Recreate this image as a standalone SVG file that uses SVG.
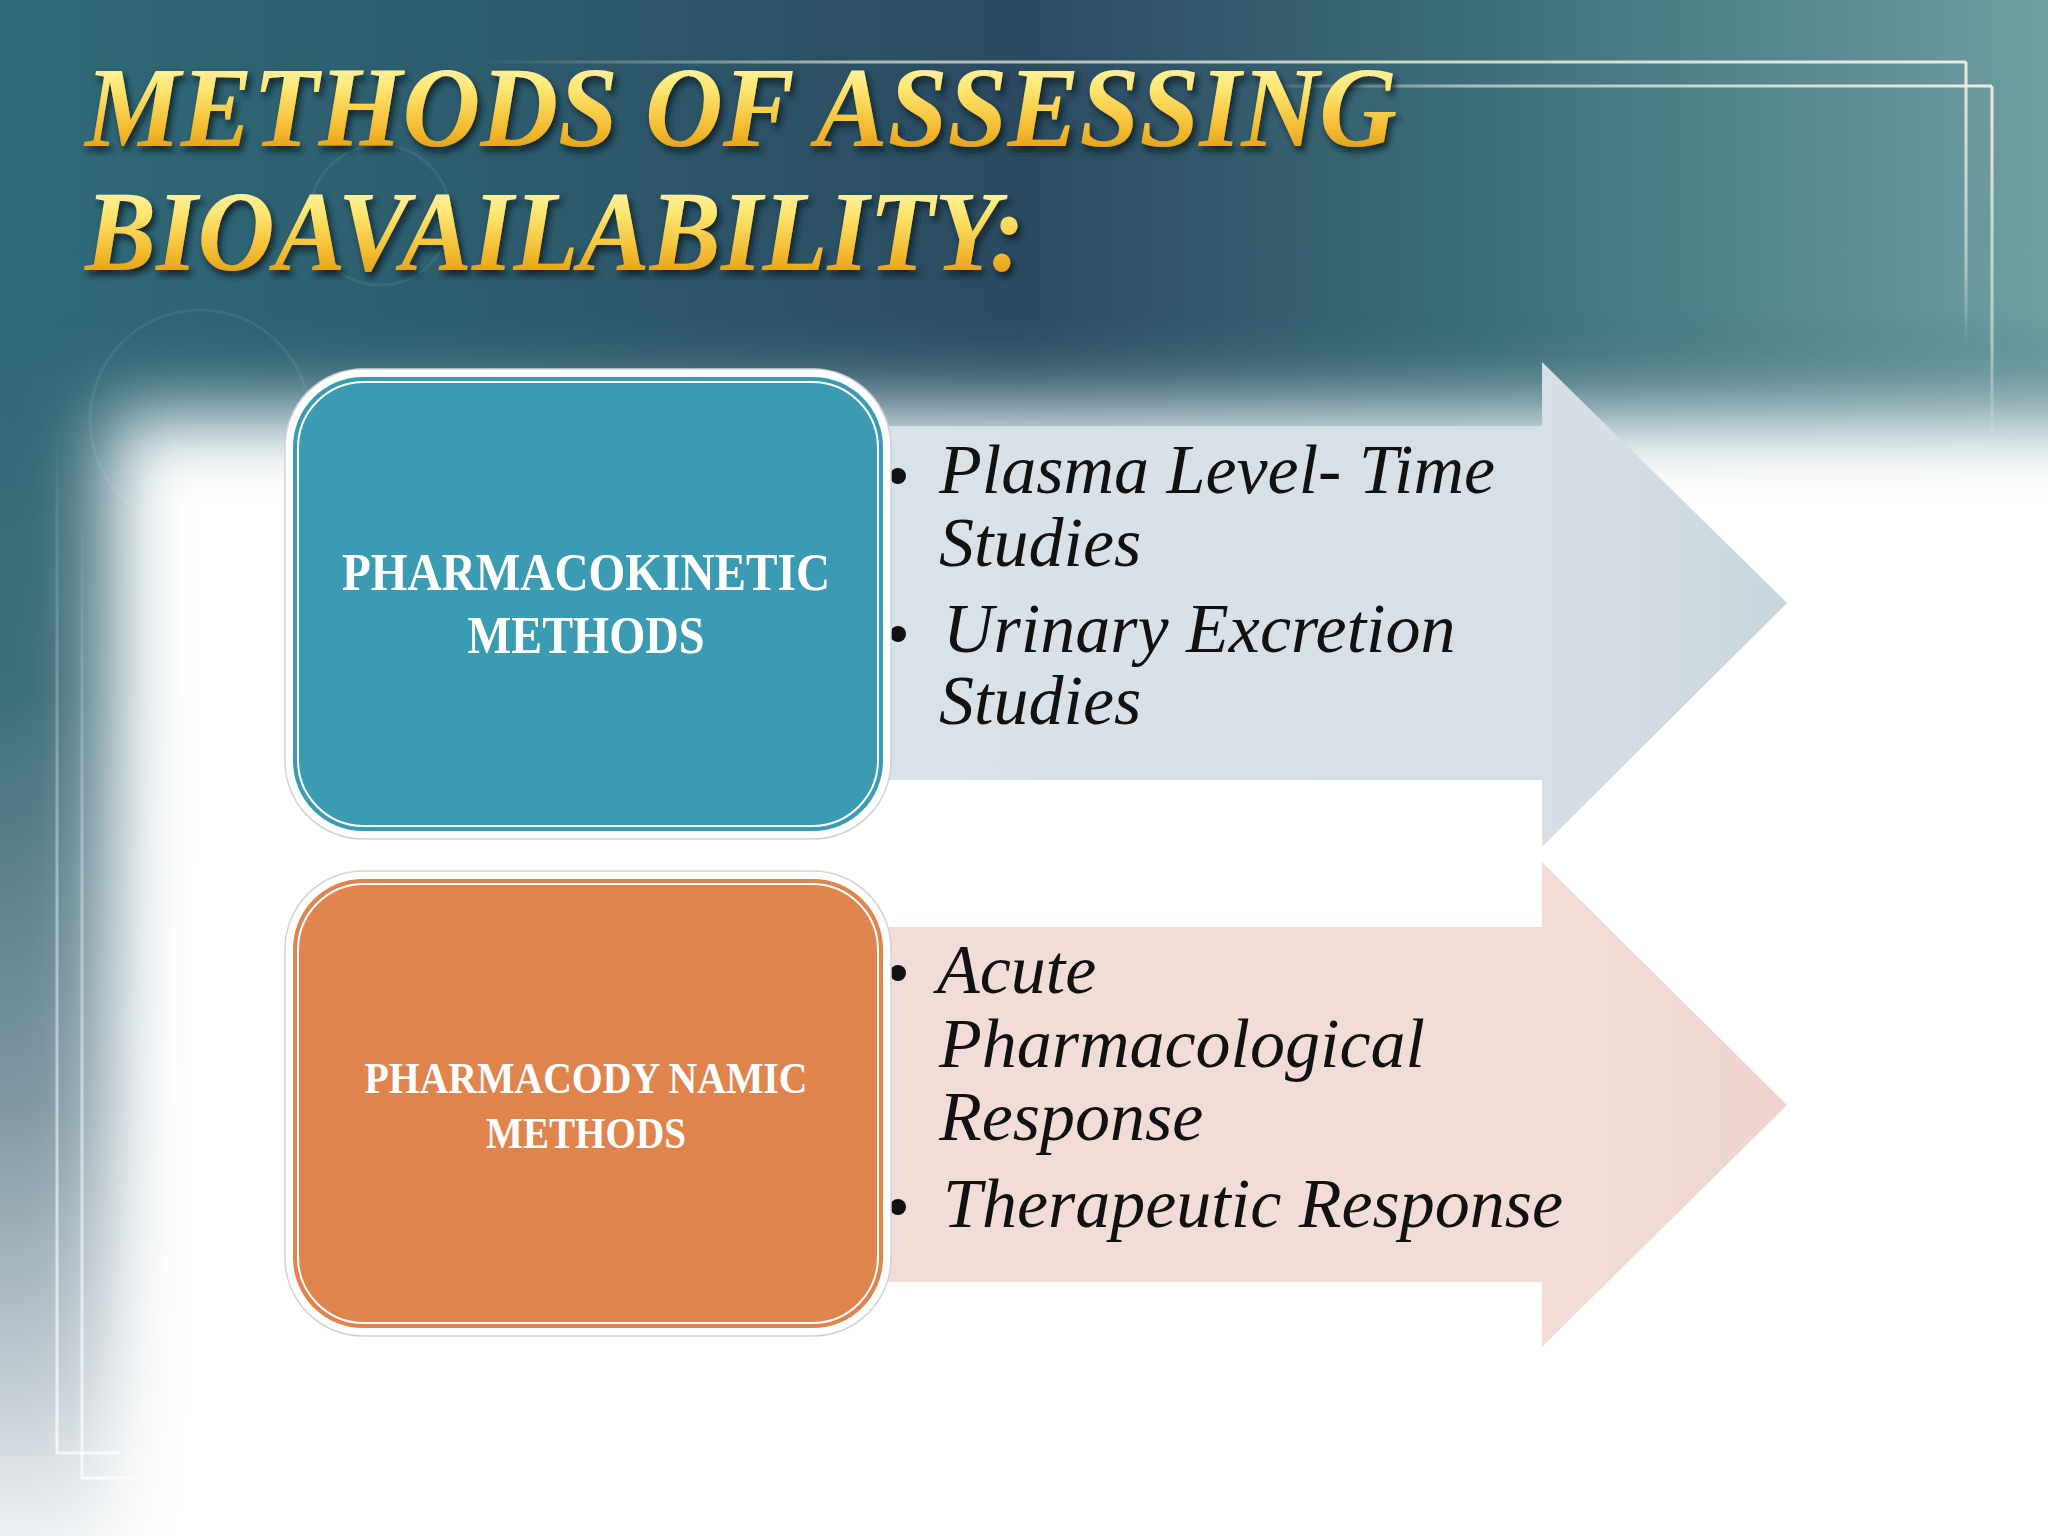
<svg xmlns="http://www.w3.org/2000/svg" width="2048" height="1536" viewBox="0 0 2048 1536">
<defs>
  <linearGradient id="bgV" x1="0" y1="0" x2="0" y2="1">
    <stop offset="0" stop-color="#2d6472"/>
    <stop offset="0.45" stop-color="#3f6f7c"/>
    <stop offset="0.72" stop-color="#7f98a4"/>
    <stop offset="0.9" stop-color="#c2ccd3"/>
    <stop offset="1" stop-color="#eef1f3"/>
  </linearGradient>
  <linearGradient id="bgTop" x1="0" y1="0" x2="1" y2="0">
    <stop offset="0" stop-color="#2f6a78"/>
    <stop offset="0.25" stop-color="#2d5b6c"/>
    <stop offset="0.5" stop-color="#2b4a60"/>
    <stop offset="0.72" stop-color="#3c6d7a"/>
    <stop offset="1" stop-color="#6f9ea2"/>
  </linearGradient>
  <linearGradient id="topMaskG" x1="0" y1="0" x2="0" y2="1">
    <stop offset="0" stop-color="#fff"/>
    <stop offset="0.6" stop-color="#fff"/>
    <stop offset="1" stop-color="#000"/>
  </linearGradient>
  <mask id="topMask" maskUnits="userSpaceOnUse" x="0" y="0" width="2048" height="520">
    <rect x="0" y="0" width="2048" height="520" fill="url(#topMaskG)"/>
  </mask>
  <filter id="blurW" x="-20%" y="-20%" width="140%" height="140%">
    <feGaussianBlur stdDeviation="38"/>
  </filter>
  <linearGradient id="gold" x1="0" y1="0" x2="0" y2="1">
    <stop offset="0" stop-color="#fffbd6"/>
    <stop offset="0.35" stop-color="#ffe771"/>
    <stop offset="0.7" stop-color="#f2b62a"/>
    <stop offset="1" stop-color="#c8860e"/>
  </linearGradient>
  <filter id="titleShadow" x="-5%" y="-20%" width="110%" height="150%">
    <feDropShadow dx="3" dy="5" stdDeviation="3" flood-color="#0a1a20" flood-opacity="0.9"/>
  </filter>
  <linearGradient id="lineH1" gradientUnits="userSpaceOnUse" x1="480" y1="0" x2="1966" y2="0">
    <stop offset="0" stop-color="#e4e2d2" stop-opacity="0"/>
    <stop offset="0.25" stop-color="#e4e2d2" stop-opacity="0.7"/>
    <stop offset="1" stop-color="#f2f0e2" stop-opacity="0.95"/>
  </linearGradient>
  <linearGradient id="lineH2" gradientUnits="userSpaceOnUse" x1="1250" y1="0" x2="1992" y2="0">
    <stop offset="0" stop-color="#e4e2d2" stop-opacity="0"/>
    <stop offset="0.3" stop-color="#e4e2d2" stop-opacity="0.7"/>
    <stop offset="1" stop-color="#f2f0e2" stop-opacity="0.95"/>
  </linearGradient>
  <linearGradient id="lineV1" gradientUnits="userSpaceOnUse" x1="0" y1="62" x2="0" y2="345">
    <stop offset="0" stop-color="#f2f0e2" stop-opacity="0.95"/>
    <stop offset="0.7" stop-color="#f2f0e2" stop-opacity="0.55"/>
    <stop offset="1" stop-color="#f2f0e2" stop-opacity="0"/>
  </linearGradient>
  <linearGradient id="lineV2" gradientUnits="userSpaceOnUse" x1="0" y1="86" x2="0" y2="450">
    <stop offset="0" stop-color="#f2f0e2" stop-opacity="0.95"/>
    <stop offset="0.7" stop-color="#f2f0e2" stop-opacity="0.55"/>
    <stop offset="1" stop-color="#f2f0e2" stop-opacity="0"/>
  </linearGradient>
  <linearGradient id="lineVL" x1="0" y1="0" x2="0" y2="1">
    <stop offset="0" stop-color="#ffffff" stop-opacity="0"/>
    <stop offset="0.4" stop-color="#ffffff" stop-opacity="0.35"/>
    <stop offset="1" stop-color="#ffffff" stop-opacity="0.7"/>
  </linearGradient>
  <linearGradient id="arrowBlue" x1="0" y1="0" x2="1" y2="0">
    <stop offset="0" stop-color="#d9e2e8"/>
    <stop offset="0.8" stop-color="#d6dfe5"/>
    <stop offset="1" stop-color="#c9d5dd"/>
  </linearGradient>
  <linearGradient id="arrowPink" x1="0" y1="0" x2="1" y2="0">
    <stop offset="0" stop-color="#f2dcd8"/>
    <stop offset="0.8" stop-color="#f2dcd8"/>
    <stop offset="1" stop-color="#efd3ce"/>
  </linearGradient>
  <style>
    .title { font-family: "Liberation Serif", "Times New Roman", serif; font-weight: bold; font-style: italic; font-size: 114px; fill: url(#gold); filter: url(#titleShadow); }
    .boxtxt { font-family: "Liberation Serif", "Times New Roman", serif; font-weight: bold; fill: #ffffff; text-anchor: middle; }
    .item { font-family: "Liberation Serif", "Times New Roman", serif; font-style: italic; font-size: 70px; fill: #111111; }
    .bullet { fill: #111111; }
    .outer { fill: #ffffff; stroke: #cfd3d8; stroke-width: 1.5; }
    .inner { fill: none; stroke: #ffffff; stroke-width: 2; }
  </style>
</defs>

<!-- background -->
<rect x="0" y="0" width="2048" height="1536" fill="url(#bgV)"/>
<rect x="0" y="0" width="2048" height="520" fill="url(#bgTop)" mask="url(#topMask)"/>
<g fill="none" stroke="#9fc4c8" stroke-opacity="0.12" stroke-width="3">
  <circle cx="380" cy="215" r="70"/>
  <circle cx="200" cy="420" r="110"/>
</g>
<rect x="108" y="415" width="2100" height="1300" fill="#ffffff" filter="url(#blurW)"/>

<!-- frame lines -->
<g id="frame" fill="none" stroke-width="3">
  <path d="M480 62 H1966" stroke="url(#lineH1)"/>
  <path d="M1966 62 V345" stroke="url(#lineV1)"/>
  <path d="M1250 86 H1992" stroke="url(#lineH2)"/>
  <path d="M1992 86 V450" stroke="url(#lineV2)"/>
  <path d="M57 420 V1453 H120" stroke="url(#lineVL)"/>
  <path d="M82 500 V1478 H140" stroke="url(#lineVL)"/>
</g>

<!-- title -->
<g id="title">
  <text class="title" x="85" y="146" textLength="1312" lengthAdjust="spacingAndGlyphs">METHODS OF ASSESSING</text>
  <text class="title" x="85" y="270" textLength="940" lengthAdjust="spacingAndGlyphs">BIOAVAILABILITY:</text>
</g>

<g id="connectors"></g>

<!-- arrows -->
<g id="arrow-pk">
  <path d="M860 426 H1542 V362 L1787 603 L1542 847 V780 H860 Z" fill="url(#arrowBlue)"/>
  <circle class="bullet" cx="898" cy="476" r="8"/>
  <text class="item" x="939" y="493">Plasma Level- Time</text>
  <text class="item" x="939" y="566">Studies</text>
  <circle class="bullet" cx="898" cy="634" r="8"/>
  <text class="item" x="943" y="652">Urinary Excretion</text>
  <text class="item" x="939" y="724">Studies</text>
</g>

<g id="arrow-pd">
  <path d="M860 927 H1542 V862 L1787 1105 L1542 1347 V1282 H860 Z" fill="url(#arrowPink)"/>
  <circle class="bullet" cx="898" cy="973" r="8"/>
  <text class="item" x="937" y="993">Acute</text>
  <text class="item" x="939" y="1067">Pharmacological</text>
  <text class="item" x="939" y="1140">Response</text>
  <circle class="bullet" cx="898" cy="1207" r="8"/>
  <text class="item" x="943" y="1227">Therapeutic Response</text>
</g>

<!-- boxes -->
<g id="box-pk">
  <rect class="outer" x="285" y="369" width="606" height="470" rx="78"/>
  <rect x="293" y="377" width="590" height="454" rx="70" fill="#3b9bb2"/>
  <rect class="inner" x="298" y="382" width="580" height="444" rx="66"/>
  <text class="boxtxt" x="586" y="590" font-size="52" textLength="488" lengthAdjust="spacingAndGlyphs">PHARMACOKINETIC</text>
  <text class="boxtxt" x="586" y="653" font-size="52" textLength="237" lengthAdjust="spacingAndGlyphs">METHODS</text>
</g>

<g id="box-pd">
  <rect class="outer" x="285" y="871" width="606" height="465" rx="78"/>
  <rect x="293" y="879" width="590" height="449" rx="70" fill="#e0844e"/>
  <rect class="inner" x="298" y="884" width="580" height="439" rx="66"/>
  <text class="boxtxt" x="586" y="1093" font-size="44" textLength="443" lengthAdjust="spacingAndGlyphs">PHARMACODY NAMIC</text>
  <text class="boxtxt" x="586" y="1148" font-size="44" textLength="200" lengthAdjust="spacingAndGlyphs">METHODS</text>
</g>
</svg>
